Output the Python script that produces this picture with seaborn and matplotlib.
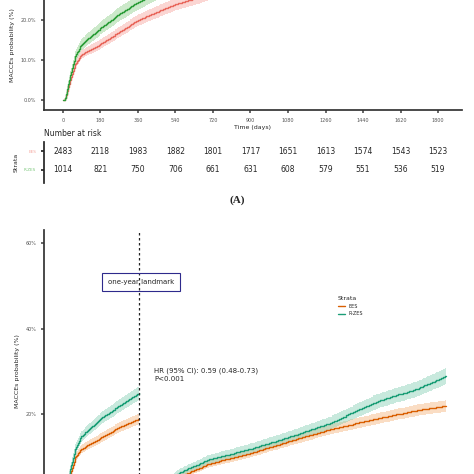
import numpy as np
import seaborn as sns
from matplotlib import pyplot as plt
from matplotlib.ticker import FuncFormatter

sns.set_theme(style='white')
plt.rcParams['font.family'] = ['DejaVu Sans']

# panel A: cumulative MACCE (%) by day
a_days_ees = [0, 10, 30, 60, 90, 180, 270, 360, 450, 540, 640, 720]
a_ees = [0, 0, 4, 9, 11.5, 14, 17, 20, 22, 24, 25.5, 27]
a_days_rzes = [0, 10, 30, 60, 90, 180, 270, 360, 450, 540]
a_rzes = [0, 0, 5, 11, 14, 18, 21.5, 24.5, 27, 29]
risk_times = [0, 180, 360, 540, 720, 900, 1080, 1260, 1440, 1620, 1800]
risk_ees = [2483, 2118, 1983, 1882, 1801, 1717, 1651, 1613, 1574, 1543, 1523]
risk_rzes = [1014, 821, 750, 706, 661, 631, 608, 579, 551, 536, 519]

# panel B: landmark analysis
b_pre_days = [0, 10, 30, 60, 90, 180, 270, 365]
b_pre_ees = [0, 0, 5, 10, 12, 14.5, 17, 19]
b_pre_rzes = [0, 0, 6, 12, 15, 19, 22, 25]
b_post_days = [365, 450, 560, 700, 900, 1100, 1280, 1500, 1700, 1840]
b_post_ees = [0, 2, 5.5, 8.5, 11, 14, 16.5, 19, 21, 22]
b_post_rzes = [0, 2.5, 6.5, 9.5, 12, 15, 18, 23, 26, 29]

def steps(days, vals, n=20):
    # fine stairs between the read points
    xs, ys = [], []
    for i in range(len(days) - 1):
        xs.extend(np.linspace(days[i], days[i + 1], n, endpoint=False))
        ys.extend(np.linspace(vals[i], vals[i + 1], n, endpoint=False))
    xs.append(days[-1]); ys.append(vals[-1])
    return np.array(xs), np.array(ys)

def curve(ax, days, vals, color, fill, width):
    x, y = steps(days, vals)
    sns.lineplot(x=x, y=y, ax=ax, color=color, lw=1, drawstyle='steps-post')
    w = width * np.sqrt(np.clip(y, 0, None) / 10 + 0.01)
    ax.fill_between(x, y - w, y + w, step='post', color=fill, alpha=0.45, lw=0)

fig = plt.figure(figsize=(4.74, 4.74), dpi=100)
xl = (-91, 1915)

ax1 = fig.add_axes([44 / 474, 1 - 110 / 474, 418 / 474, 130 / 474])
curve(ax1, a_days_ees, a_ees, '#E8685D', '#F8A59E', 1.0)
curve(ax1, a_days_rzes, a_rzes, '#2E9E3A', '#8FD08A', 1.2)
ax1.set_xlim(xl)
ax1.set_ylim(-2.5, 30)
ax1.set_xticks(risk_times)
ax1.set_yticks([0, 10, 20])
ax1.yaxis.set_major_formatter(FuncFormatter(lambda v, p: f'{v:.1f}%'))
ax1.tick_params(labelsize=3.5, length=2, colors='#555555', left=True, bottom=True)
ax1.set_xlabel('Time (days)', fontsize=4.5, labelpad=2)
ax1.set_ylabel('MACCEs probability (%)', fontsize=4.5)
for s in ['top', 'right']:
    ax1.spines[s].set_visible(False)
for s in ['left', 'bottom']:
    ax1.spines[s].set_color('#333333')

# risk table
axr = fig.add_axes([44 / 474, 1 - 183 / 474, 418 / 474, 41 / 474])
axr.set_xlim(xl)
axr.set_ylim(0, 2)
for t, e, r in zip(risk_times, risk_ees, risk_rzes):
    axr.text(t, 1.55, str(e), ha='center', va='center', fontsize=5.5)
    axr.text(t, 0.65, str(r), ha='center', va='center', fontsize=5.5)
axr.set_xticks([])
axr.set_yticks([0.65, 1.55])
axr.set_yticklabels(['R-ZES', 'EES'], fontsize=3)
axr.get_yticklabels()[0].set_color('#7BC77B')
axr.get_yticklabels()[1].set_color('#F5A79F')
axr.tick_params(left=True, length=2)
axr.set_ylabel('Strata', fontsize=4.5)
for s in ['top', 'right', 'bottom']:
    axr.spines[s].set_visible(False)
fig.text(44 / 474, 1 - 134 / 474, 'Number at risk', fontsize=5.5, va='center')
fig.text(0.5, 1 - 200 / 474, '(A)', fontsize=8, weight='bold', family='Liberation Serif', ha='center', va='center')

# panel B
ax2 = fig.add_axes([44 / 474, 1 - 513 / 474, 418 / 474, 283 / 474])
curve(ax2, b_pre_days, b_pre_ees, '#D95F02', '#F5B47E', 0.9)
curve(ax2, b_pre_days, b_pre_rzes, '#1B9E77', '#86CFB4', 1.0)
curve(ax2, b_post_days, b_post_ees, '#D95F02', '#F5B47E', 0.9)
curve(ax2, b_post_days, b_post_rzes, '#1B9E77', '#86CFB4', 1.1)
ax2.axvline(365, ls=(0, (2, 2)), color='#222222', lw=0.9)
ax2.set_xlim(xl)
ax2.set_ylim(-3, 63)
ax2.set_yticks([20, 40, 60])
ax2.yaxis.set_major_formatter(FuncFormatter(lambda v, p: f'{v:.0f}%'))
ax2.tick_params(labelsize=3.5, length=2, colors='#555555', left=True)
ax2.set_xticks([])
ax2.set_ylabel('MACCEs probability (%)', fontsize=4.5)
for s in ['top', 'right', 'bottom']:
    ax2.spines[s].set_visible(False)
ax2.spines['left'].set_color('#333333')
fig.text(141 / 474, 1 - 282 / 474, 'one-year landmark', fontsize=5, ha='center', va='center',
         bbox=dict(boxstyle='square,pad=0.9', fc='none', ec='#2E2A8C', lw=0.8))
fig.text(154 / 474, 1 - 375 / 474, 'HR (95% CI): 0.59 (0.48-0.73)\nP<0.001', fontsize=5, va='center',
         linespacing=1.3)
h1, = ax2.plot([], [], color='#D95F02', lw=1)
h2, = ax2.plot([], [], color='#1B9E77', lw=1)
leg = ax2.legend([h1, h2], ['EES', 'R-ZES'], title='Strata', loc='upper left',
                 bbox_to_anchor=(372 / 474 - 44 / 474, 1 - 62 / 283), bbox_transform=ax2.transAxes,
                 fontsize=3.5, title_fontsize=4.5, frameon=False, handlelength=1.5)
leg._legend_box.align = 'left'

fig.savefig('out.png', dpi=100)
